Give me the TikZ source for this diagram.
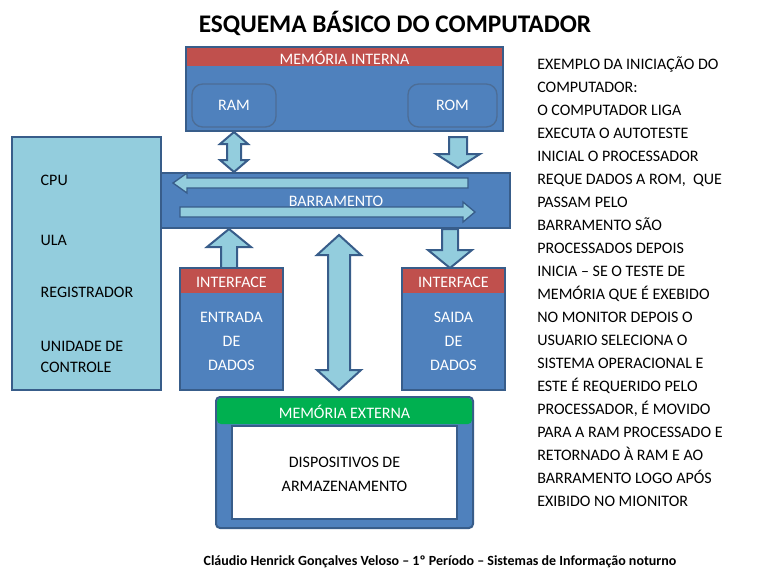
\documentclass[tikz,border=0pt]{standalone}
\usepackage{fontspec}
\setmainfont{Carlito}
\definecolor{bblue}{HTML}{4F81BD}
\definecolor{bdark}{HTML}{385D8A}
\definecolor{rred}{HTML}{C0504D}
\definecolor{lblue}{HTML}{93CDDD}
\definecolor{ggreen}{HTML}{00B050}
\tikzset{
 arr/.style={fill=lblue,draw=bdark,line width=1.5pt,line join=miter},
 box/.style={fill=bblue,draw=bdark,line width=1.5pt},
 wt/.style={text=white,font=\fontsize{12}{14}\selectfont},
 bt/.style={text=black,font=\fontsize{12}{14}\selectfont,anchor=west}
}
\newcommand\myvarrow[6]{%
 \pgfmathsetmacro\dir{sign(#3-#2)}%
 \pgfmathsetmacro\yb{#3-\dir*#6}%
 \draw[arr] (#1-#4,#2) -- (#1-#4,\yb) -- (#1-#5,\yb) -- (#1,#3) -- (#1+#5,\yb) -- (#1+#4,\yb) -- (#1+#4,#2) -- cycle;}
\newcommand\myvdarrow[6]{%
 \pgfmathsetmacro\ya{#2+#6}\pgfmathsetmacro\yb{#3-#6}%
 \draw[arr] (#1,#2) -- (#1+#5,\ya) -- (#1+#4,\ya) -- (#1+#4,\yb) -- (#1+#5,\yb) -- (#1,#3) -- (#1-#5,\yb) -- (#1-#4,\yb) -- (#1-#4,\ya) -- (#1-#5,\ya) -- cycle;}
\newcommand\myharrow[6]{%
 \pgfmathsetmacro\dir{sign(#3-#2)}%
 \pgfmathsetmacro\xb{#3-\dir*#6}%
 \draw[arr,line width=1pt] (#2,#1-#4) -- (\xb,#1-#4) -- (\xb,#1-#5) -- (#3,#1) -- (\xb,#1+#5) -- (\xb,#1+#4) -- (#2,#1+#4) -- cycle;}
\begin{document}
\begin{tikzpicture}[x=0.75pt,y=-0.75pt]
\useasboundingbox[fill=white] (0,0) rectangle (768,576);
\node[font=\bfseries\fontsize{19}{22}\selectfont] (title) at (395,23) {ESQUEMA BÁSICO DO COMPUTADOR};
% memoria interna
\draw[box] (186,47) rectangle (503,131);
\fill[rred] (187,48) rectangle (502,66);
\node[wt] (mi) at (344.5,58) {MEMÓRIA INTERNA};
\draw[box,draw=bdark!90,line width=1pt,rounded corners=8pt] (192,84) rectangle node[wt] (ram) {RAM} (276,127);
\draw[box,draw=bdark!90,line width=1pt,rounded corners=8pt] (408,84) rectangle node[wt] (rom) {ROM} (497,127);
% CPU
\draw[fill=lblue,draw=bdark,line width=1.5pt] (12,137) rectangle (161,390);
\node[bt] (cpu) at (36,180) {CPU};
\node[bt] (ula) at (36,240) {ULA};
\node[bt] (reg) at (36,292) {REGISTRADOR};
\node[bt,align=left] (uc) at (36,357) {UNIDADE DE\\[2pt]CONTROLE};
% barramento
\draw[box] (161,173) rectangle (510,228);
\node[wt] (bar) at (336,201) {BARRAMENTO};
\myharrow{183}{468}{173}{5}{10}{14}
\myharrow{212}{180}{475}{5}{10}{12}
% arrows
\myvdarrow{234}{132}{172}{7}{14}{12}
\myvarrow{458}{137}{168}{9}{22}{14}
\myvarrow{229}{268}{229}{8}{22}{18}
\myvarrow{450}{229}{268}{8}{22}{18}
\myvdarrow{339}{235}{390}{11}{22}{20}
% interfaces
\draw[box] (180,268) rectangle (283,390);
\fill[rred] (181,269) rectangle (282,293);
\node[wt] (if1) at (231.5,282) {INTERFACE};
\node[wt,align=center] (ent) at (231.5,341) {ENTRADA\\[4pt]DE\\[4pt]DADOS};
\draw[box] (402,268) rectangle (505,390);
\fill[rred] (403,269) rectangle (504,293);
\node[wt] (if2) at (453.5,282) {INTERFACE};
\node[wt,align=center] (sai) at (453.5,341) {SAIDA\\[4pt]DE\\[4pt]DADOS};
% memoria externa
\draw[box,rounded corners=3pt] (216,397) rectangle (473,528);
\fill[ggreen,rounded corners=3pt] (217,398) rectangle (472,424);
\draw[fill=white,draw=bdark,line width=1pt] (232,426) rectangle (457,519);
\node[wt] (me) at (344.5,412) {MEMÓRIA EXTERNA};
\node[align=center,font=\fontsize{12}{14}\selectfont] (disp) at (344.5,474) {DISPOSITIVOS DE\\[4pt]ARMAZENAMENTO};
% right text
\node[anchor=north west,align=left,inner sep=0pt,font=\fontsize{12}{17.25}\selectfont] (txt) at (537,56) {EXEMPLO DA INICIAÇÃO DO\\
COMPUTADOR:\\
O COMPUTADOR LIGA\\
EXECUTA O AUTOTESTE\\
INICIAL O PROCESSADOR\\
REQUE DADOS A ROM,\ \ QUE\\
PASSAM PELO\\
BARRAMENTO SÃO\\
PROCESSADOS DEPOIS\\
INICIA – SE O TESTE DE\\
MEMÓRIA QUE É EXEBIDO\\
NO MONITOR DEPOIS O\\
USUARIO SELECIONA O\\
SISTEMA OPERACIONAL E\\
ESTE É REQUERIDO PELO\\
PROCESSADOR, É MOVIDO\\
PARA A RAM PROCESSADO E\\
RETORNADO À RAM E AO\\
BARRAMENTO LOGO APÓS\\
EXIBIDO NO MIONITOR};
\node[font=\bfseries\fontsize{10.5}{12}\selectfont] (foot) at (440,562) {Cláudio Henrick Gonçalves Veloso – 1º Período – Sistemas de Informação noturno};
\end{tikzpicture}
\end{document}
